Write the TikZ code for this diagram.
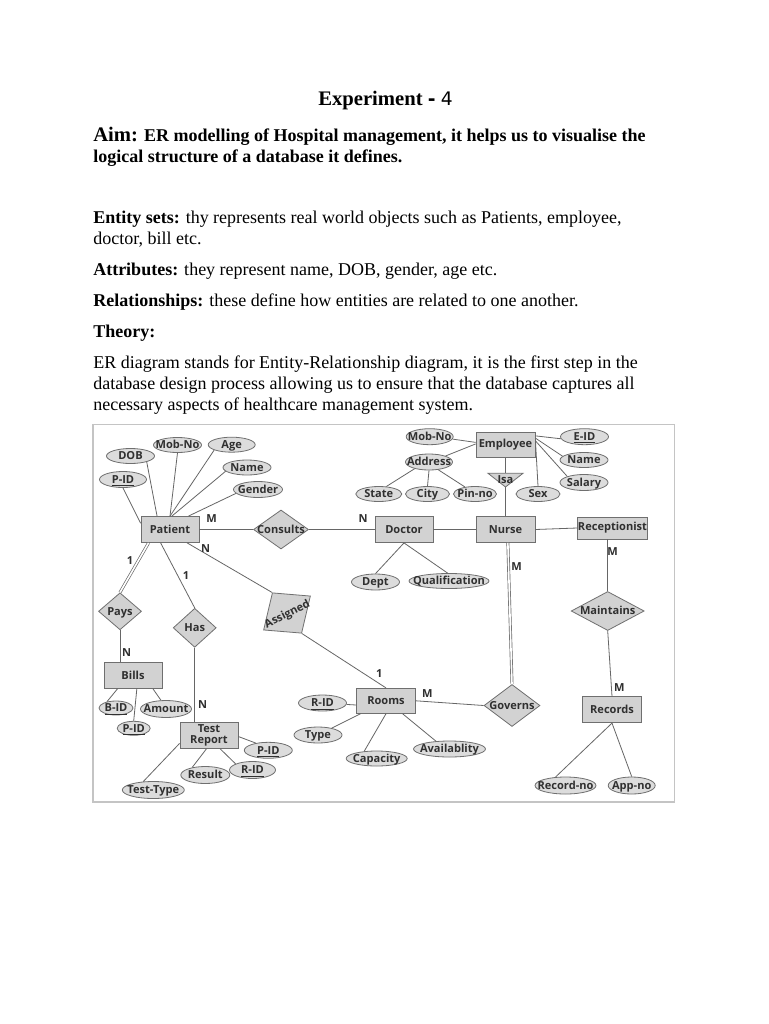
\documentclass[tikz,border=0pt]{standalone}
\usepackage{fontspec}
\setmainfont{Liberation Serif}
\newfontfamily\diagfam{Open Sans}
\newfontfamily\dejavufam{DejaVu Sans}
\usetikzlibrary{shapes.geometric}
\newcommand\dfont{\diagfam\bfseries\fontsize{8.3}{9.3}\selectfont}
\newcommand\ctr[1]{\makebox[0pt]{\raisebox{-0.36em}[0pt][0pt]{#1}}}
\definecolor{entfill}{HTML}{D2D2D2}
\definecolor{attrfill}{HTML}{DCDCDC}
\definecolor{bordc}{HTML}{6F6F6F}
\definecolor{txtc}{HTML}{303030}
\definecolor{linec}{HTML}{666666}
\definecolor{framec}{HTML}{C4C4C4}
\tikzset{
  ent/.style n args={2}{rectangle, draw=bordc, fill=entfill, line width=0.6pt, inner sep=0pt,
    font=\dfont, text=txtc, align=center, minimum width=#1*0.75pt, minimum height=#2*0.75pt},
  attr/.style n args={2}{ellipse, draw=bordc, fill=attrfill, line width=0.6pt, inner sep=0pt,
    font=\dfont, text=txtc, minimum width=#1*0.75pt, minimum height=#2*0.75pt},
  rel/.style n args={2}{diamond, draw=bordc, fill=entfill, line width=0.6pt, inner sep=0pt,
    font=\dfont, text=txtc, minimum width=#1*0.75pt, minimum height=#2*0.75pt},
  atxt/.style={font=\dfont, text=txtc, inner sep=0pt},
  card/.style={font=\dfont, text=txtc, inner sep=0pt},
  conn/.style={draw=linec, line width=0.6pt},
  dbl/.style={draw=linec, line width=0.5pt, double=white, double distance=1.2pt},
  body/.style={anchor=base west, inner sep=0pt, font=\fontsize{13.5}{16}\selectfont},
}
\begin{document}
\begin{tikzpicture}[x=0.75pt, y=-0.75pt]
\useasboundingbox (0,0) rectangle (768,1024);
\fill[white] (0,0) rectangle (768,1024);

% ---------- text ----------
\node[anchor=base west, inner sep=0pt, font=\fontsize{15.5}{18}\selectfont] (title) at (318,105.7)
  {\bfseries Experiment {\dejavufam\fontsize{14}{16}\selectfont -} {\dejavufam\mdseries\fontsize{14}{16}\selectfont 4}};
\node[body] (aim1) at (93,141.7) {{\bfseries\fontsize{15.5}{18}\selectfont Aim:} \textbf{ER modelling of Hospital management, it helps us to visualise the}};
\node[body] (aim2) at (93,162.3) {\textbf{logical structure of a database it defines.}};
\node[body] (ent1) at (93,223.3) {\textbf{Entity sets:} thy represents real world objects such as Patients, employee,};
\node[body] (ent2) at (93,244.3) {doctor, bill etc.};
\node[body] (attrl) at (93,275.7) {\textbf{Attributes:} they represent name, DOB, gender, age etc.};
\node[body] (rell) at (93,306) {\textbf{Relationships:} these define how entities are related to one another.};
\node[body] (theo) at (93,337.3) {\textbf{Theory:}};
\node[body] (th1) at (93,368.3) {ER diagram stands for Entity-Relationship diagram, it is the first step in the};
\node[body] (th2) at (93,389.3) {database design process allowing us to ensure that the database captures all};
\node[body] (th3) at (93,410) {necessary aspects of healthcare management system.};

% ---------- frame ----------
\draw[framec, line width=0.8pt] (93,424.5) rectangle (674.5,802);

% ---------- entities ----------
\node[ent={58}{26}] (patient) at (170,529.5) {Patient};
\node[ent={58}{26}] (doctor) at (404,529.5) {Doctor};
\node[ent={59}{26}] (nurse) at (505.5,529.5) {Nurse};
\node[ent={59}{25}] (employee) at (505.5,445) {Employee};
\node[ent={70}{22}] (receptionist) at (612.5,528) {Receptionist};
\node[ent={59}{26}] (records) at (612,709.7) {Records};
\node[ent={59}{25}] (rooms) at (386,700.8) {Rooms};
\node[ent={58}{26}] (bills) at (133,675.3) {Bills};
\node[ent={58}{26}] (testreport) at (209,735.5) {Test\\[-1.4pt]Report};

% ---------- relationships ----------
\node[rel={55}{39}] (consults) at (281,529.5) {\ctr{Consults}};
\node[rel={43}{37}] (pays) at (120,611.3) {\ctr{Pays}};
\node[rel={43}{39}] (has) at (194.7,627.8) {\ctr{Has}};
\node[rel={56}{42}] (governs) at (512,705.5) {\ctr{Governs}};
\node[rel={73}{39}] (maintains) at (607.7,611) {\ctr{Maintains}};
\node[diamond, draw=bordc, fill=entfill, line width=0.6pt, inner sep=0pt, rotate=36,
  minimum width=43.5pt, minimum height=37.5pt] (assigned) at (287,613) {};
\node[atxt, rotate=27] (assignedtxt) at (287,613.5) {\ctr{Assigned}};

% Isa triangle
\coordinate (isaL) at (488,473.3);
\coordinate (isaR) at (523,473.3);
\coordinate (isaT) at (505.5,473.3);
\coordinate (isaB) at (505.5,487);
\draw[draw=bordc, fill=entfill, line width=0.6pt] (isaL) -- (isaR) -- (isaB) -- cycle;
\node[atxt] (isa) at (505.5,480) {\ctr{Isa}};

% ---------- attributes ----------
\node[attr={47}{16}] (ppid) at (123,479.5) {\ctr{\underline{P-ID}}};
\node[attr={48}{15}] (pdob) at (130.5,456) {\ctr{DOB}};
\node[attr={48}{15}] (pmob) at (177.5,445) {\ctr{Mob-No}};
\node[attr={47}{15}] (page) at (231.7,444.7) {\ctr{Age}};
\node[attr={48}{15}] (pname) at (247,467.5) {\ctr{Name}};
\node[attr={49}{16}] (pgender) at (258,489.5) {\ctr{Gender}};

\node[attr={47}{16}] (emob) at (429.7,436.7) {\ctr{Mob-No}};
\node[attr={47}{16}] (eaddr) at (429,462) {\ctr{Address}};
\node[attr={46}{15}] (state) at (378.8,494) {\ctr{State}};
\node[attr={44}{15}] (city) at (427.5,494) {\ctr{City}};
\node[attr={43}{15}] (pinno) at (475,494) {\ctr{Pin-no}};
\node[attr={44}{15}] (sex) at (538,494) {\ctr{Sex}};
\node[attr={48}{16}] (eid) at (584.5,436.7) {\ctr{\underline{E-ID}}};
\node[attr={48}{15}] (ename) at (584,460) {\ctr{Name}};
\node[attr={48}{16}] (salary) at (584,482.5) {\ctr{Salary}};

\node[attr={48}{16}] (dept) at (375.5,582) {\ctr{Dept}};
\node[attr={80}{15}] (qual) at (449,581) {\ctr{Qualification}};

\node[attr={34}{14}] (bid) at (116,708) {\ctr{\underline{B-ID}}};
\node[attr={51}{17}] (amount) at (166,709) {\ctr{Amount}};
\node[attr={33}{14}] (bpid) at (133.7,728.3) {\ctr{\underline{P-ID}}};

\node[attr={48}{16}] (trpid) at (268.3,750.3) {\ctr{\underline{P-ID}}};
\node[attr={46}{17}] (trrid) at (252.5,770) {\ctr{\underline{R-ID}}};
\node[attr={49}{17}] (result) at (205.3,775) {\ctr{Result}};
\node[attr={62}{17}] (testtype) at (153.3,790) {\ctr{Test-Type}};

\node[attr={48}{16}] (rid) at (322.5,703) {\ctr{\underline{R-ID}}};
\node[attr={48}{16}] (rtype) at (318,735) {\ctr{Type}};
\node[attr={61}{15}] (capacity) at (376.7,758.5) {\ctr{Capacity}};
\node[attr={72}{16}] (avail) at (449.5,749) {\ctr{Availablity}};

\node[attr={61}{17}] (recno) at (565.5,785.5) {\ctr{Record-no}};
\node[attr={47}{17}] (appno) at (631.7,785.5) {\ctr{App-no}};

% ---------- connectors ----------
\draw[conn] (ppid.south) -- (patient.168);
\draw[conn] (pdob.-20) -- (patient.134);
\draw[conn] (pmob.south) -- (patient.north);
\draw[conn] (page.197) -- (patient.north);
\draw[conn] (pname.190) -- (patient.82);
\draw[conn] (pgender.190) -- (patient.36);

\draw[conn] (patient) -- (consults);
\draw[conn] (consults) -- (doctor);
\draw[conn] (doctor) -- (nurse);
\draw[conn] (nurse.east) -- (receptionist.west);
\draw[dbl] (patient.212) -- (pays.north);
\draw[conn] (pays.south) -- (pays.south |- bills.north);
\draw[conn] (patient.235) -- (has.north);
\draw[conn] (has.south) -- (has.south |- testreport.north);
\draw[conn] (patient.-38) -- (assigned.north);
\draw[conn] (assigned.south) -- (rooms.north);
\draw[conn] (rooms.east) -- (governs.west);
\draw[dbl] (nurse.-80) -- (governs.north);
\draw[conn] (maintains.north |- receptionist.south) -- (maintains.north);
\draw[conn] (maintains.south) -- (records.north);
\draw[conn] (employee) -- (isaT);
\draw[conn] (isaB) -- (nurse);

\draw[conn] (emob.-6) -- (employee.175);
\draw[conn] (eaddr.20) -- (employee.178);
\draw[conn] (eaddr.-155) -- (state.45);
\draw[conn] (eaddr.south) -- (city.north);
\draw[conn] (eaddr.-40) -- (pinno.145);
\draw[conn] (employee.10) -- (sex.north);
\draw[conn] (employee.17) -- (eid.185);
\draw[conn] (employee.13) -- (ename.170);
\draw[conn] (employee.8) -- (salary.160);

\draw[conn] (doctor.south) -- (dept.north);
\draw[conn] (doctor.south) -- (qual.100);

\draw[conn] (bills.221) -- (bid.145);
\draw[conn] (bills.-34) -- (amount.120);
\draw[conn] (bills.-74) -- (bpid.north);

\draw[conn] (testreport.-2) -- (trpid.150);
\draw[conn] (testreport.-50) -- (trrid.160);
\draw[conn] (testreport.-101) -- (result.150);
\draw[conn] (testreport.195) -- (testtype.140);

\draw[conn] (rid) -- (rooms.188);
\draw[conn] (rooms.207) -- (rtype);
\draw[conn] (rooms.south) -- (capacity.150);
\draw[conn] (rooms.-38) -- (avail.150);

\draw[conn] (records.south) -- (recno.140);
\draw[conn] (records.south) -- (appno.north);

% ---------- cardinalities ----------
\node[card] (c1) at (211.7,519) {M};
\node[card] (c2) at (363,519) {N};
\node[card] (c3) at (205.7,548.3) {N};
\node[card] (c4) at (130,560.7) {1};
\node[card] (c5) at (186,576) {1};
\node[card] (c6) at (126.7,652.7) {N};
\node[card] (c7) at (202.7,705) {N};
\node[card] (c8) at (379.3,673.3) {1};
\node[card] (c9) at (427.3,693.3) {M};
\node[card] (c10) at (516.7,566.7) {M};
\node[card] (c11) at (612.7,551.7) {M};
\node[card] (c12) at (619.3,687.7) {M};
\end{tikzpicture}
\end{document}
